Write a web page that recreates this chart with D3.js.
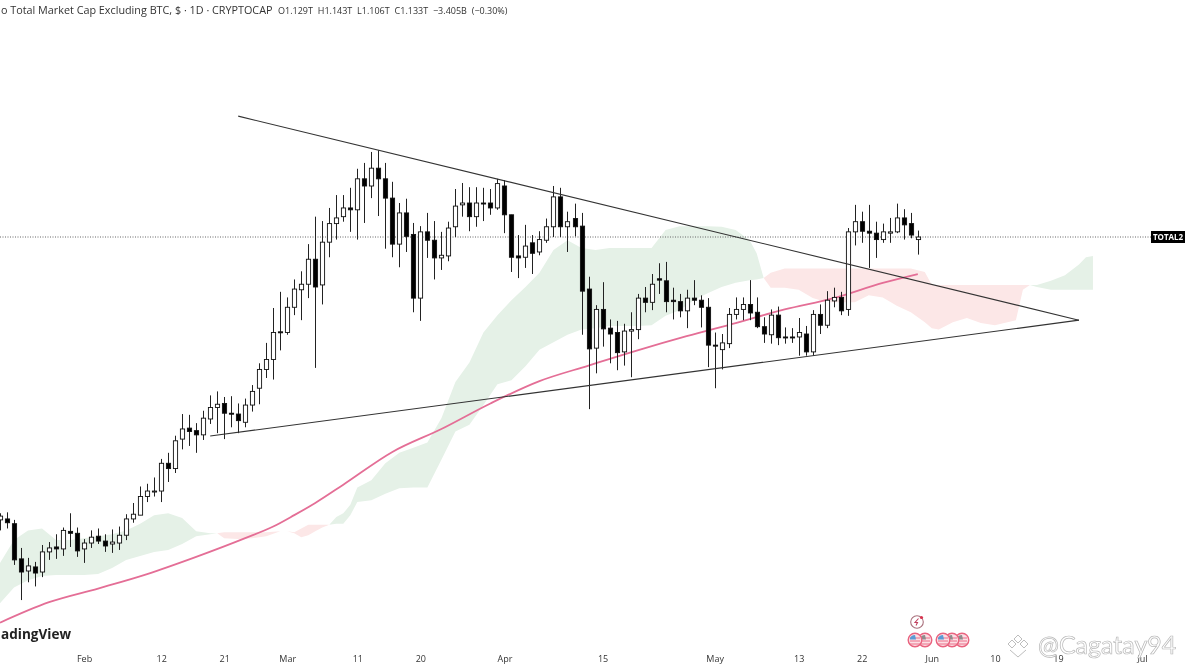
<!DOCTYPE html>
<html>
<head>
<meta charset="utf-8">
<script src="https://cdn.jsdelivr.net/npm/d3@7"></script>
<style>
  html, body { margin: 0; padding: 0; background: #fff; overflow: hidden; }
  svg { display: block; }
  text { font-family: "Open Sans", sans-serif; }
</style>
</head>
<body>
<div id="chart"></div>
<script>
// daily candles, first one is firstDay, prices in trillions
const firstDay = '2024-01-20'
const opens = [
  .769,.770,.765,.729,.717,.721,.716,.736,.741,.739,.757,.755,
  .739,.745,.752,.747,.744,.745,.753,.770,.774,.794,.799,.800,
  .831,.825,.859,.872,.869,.864,.883,.897,.902,.890,.889,.879,
  .900,.921,.945,.958,.995,.994,1.029,1.054,1.062,1.099,1.061,1.125,
  1.154,1.165,1.179,1.176,1.227,1.215,1.245,1.227,1.195,1.122,1.171,1.137,
  1.042,1.141,1.128,1.101,1.104,1.149,1.184,1.187,1.165,1.187,1.187,1.179,
  1.215,1.168,1.104,1.102,1.124,1.110,1.128,1.149,1.197,1.149,1.162,1.150,
  1.055,.973,1.026,1.000,.994,.968,.996,.998,1.042,1.036,1.070,1.067,
  1.039,1.037,1.024,1.042,1.039,1.029,.977,.971,.979,1.019,1.026,1.033,
  1.022,1.002,.991,1.018,.988,.988,.988,.992,.968,1.019,1.004,1.038,
  1.043,1.026,1.141,1.157,1.142,1.139,1.129,1.139,1.141,1.163,1.154,1.129
]
const highs = [
  .776,.777,.769,.740,.730,.726,.743,.746,.754,.761,.776,.761,
  .749,.758,.760,.754,.759,.762,.775,.787,.805,.808,.815,.836,
  .843,.863,.889,.888,.878,.893,.912,.917,.910,.911,.902,.908,
  .925,.953,.980,1.028,1.051,1.043,1.069,1.081,1.122,1.165,1.158,1.179,
  1.200,1.200,1.212,1.244,1.254,1.273,1.276,1.254,1.222,1.187,1.194,1.155,
  1.150,1.171,1.158,1.141,1.157,1.210,1.220,1.213,1.213,1.212,1.210,1.227,
  1.225,1.168,1.136,1.152,1.136,1.142,1.162,1.215,1.212,1.173,1.186,1.171,
  1.073,1.032,1.065,1.012,1.010,1.006,1.022,1.048,1.058,1.077,1.093,1.095,
  1.057,1.048,1.054,1.068,1.046,1.042,.994,.992,1.028,1.043,1.043,1.068,
  1.043,1.015,1.026,1.030,1.001,1.000,1.014,1.003,1.025,1.033,1.052,1.057,
  1.051,1.147,1.184,1.173,1.184,1.157,1.154,1.163,1.186,1.177,1.171,1.143
]
const lows = [
  .758,.760,.723,.689,.706,.702,.711,.728,.729,.732,.741,.731,
  .725,.740,.744,.736,.735,.738,.748,.766,.774,.788,.794,.788,
  .810,.820,.847,.851,.843,.858,.877,.866,.859,.873,.866,.873,
  .892,.901,.934,.932,.970,.991,1.018,1.011,1.042,.947,1.033,1.102,
  1.129,1.157,1.141,1.129,1.155,1.195,1.166,1.115,1.102,1.087,1.110,1.022,
  1.010,1.101,1.069,1.083,1.096,1.133,1.165,1.142,1.149,1.158,1.168,1.176,
  1.139,1.080,1.071,1.086,1.077,1.105,1.124,1.133,1.133,1.110,1.134,.991,
  .895,.940,.975,.953,.944,.950,.935,.985,1.022,1.025,1.048,1.022,
  1.012,1.015,1.000,1.032,1.001,.948,.921,.945,.973,1.012,1.011,1.011,
  1.000,.980,.979,.977,.979,.980,.963,.963,.963,.992,1.000,1.029,
  1.018,1.017,1.120,1.124,1.086,1.101,1.124,1.124,1.139,1.129,1.131,1.106
]
const closes = [
  .773,.766,.728,.716,.722,.715,.736,.740,.739,.758,.755,.737,
  .745,.751,.747,.742,.746,.753,.770,.775,.794,.800,.800,.831,
  .825,.857,.871,.868,.864,.884,.897,.901,.890,.889,.881,.900,
  .917,.945,.958,.994,.994,1.029,1.055,1.062,1.099,1.058,1.125,1.154,
  1.163,1.179,1.176,1.227,1.215,1.245,1.227,1.195,1.122,1.171,1.134,1.042,
  1.141,1.128,1.101,1.105,1.147,1.182,1.187,1.165,1.187,1.186,1.179,1.219,
  1.168,1.102,1.101,1.119,1.108,1.129,1.149,1.197,1.149,1.157,1.149,1.052,
  .972,1.026,.999,.992,.967,.996,.998,1.042,1.036,1.062,1.068,1.037,
  1.037,1.024,1.042,1.039,1.029,.977,.976,.980,1.019,1.026,1.033,1.021,
  1.002,.992,1.018,.987,.987,.987,.994,.968,1.019,1.004,1.039,1.043,
  1.024,1.141,1.157,1.142,1.139,1.129,1.141,1.141,1.163,1.152,1.136,1.133
]
const lastPrice = 1.133

// ichimoku cloud, green where A is above B, red where it is below
const cloudDates = [
  '01-20','01-22','01-24','01-26','01-28','01-30','02-01','02-03','02-05','02-07','02-09','02-11',
  '02-13','02-15','02-17','02-19','02-20','02-21','02-23','02-25','02-27','02-29','03-01','03-02',
  '03-03','03-04','03-05','03-06','03-07','03-08','03-09','03-10','03-11','03-13','03-15','03-17',
  '03-19','03-21','03-23','03-25','03-27','03-29','03-31','04-02','04-04','04-06','04-08','04-10',
  '04-12','04-14','04-16','04-18','04-20','04-22','04-24','04-26','04-28','04-30','05-02','05-04',
  '05-06','05-07','05-08','05-09','05-11','05-13','05-15','05-17','05-19','05-21','05-23','05-25',
  '05-27','05-29','05-31','06-01','06-02','06-04','06-06','06-08','06-10','06-13','06-14','06-15',
  '06-16','06-18','06-20','06-22','06-23','06-24'
]
const spanA = [
  .725,.748,.758,.760,.748,.748,.750,.752,.754,.758,.765,.774,
  .776,.771,.757,.755,.755,.750,.749,.750,.752,.757,.757,.755,
  .751,.753,.757,.761,.764,.772,.776,.785,.804,.812,.831,.843,
  .849,.855,.884,.929,.954,.994,1.018,1.039,1.058,1.079,1.113,1.128,
  1.116,1.113,1.116,1.116,1.116,1.116,1.144,1.150,1.150,1.150,1.149,1.144,
  1.128,1.108,1.071,1.057,1.057,1.054,1.042,1.036,1.036,1.036,1.046,1.043,
  1.031,1.022,1.008,1.000,.998,1.008,1.014,1.007,1.004,1.011,1.054,1.061,
  1.061,1.067,1.075,1.091,1.102,1.104
]
const spanB = [
  .686,.701,.708,.712,.713,.713,.713,.714,.720,.728,.732,.736,
  .738,.744,.752,.754,.755,.756,.756,.756,.756,.757,.757,.756,
  .760,.764,.764,.764,.764,.765,.765,.774,.788,.790,.797,.803,
  .804,.804,.835,.868,.876,.900,.926,.931,.949,.971,.981,.991,
  .998,1.000,1.003,1.003,1.003,1.004,1.017,1.025,1.039,1.049,1.058,1.064,
  1.068,1.069,1.071,1.079,1.085,1.085,1.085,1.085,1.085,1.085,1.085,1.085,
  1.085,1.085,1.080,1.061,1.061,1.061,1.061,1.061,1.061,1.061,1.061,1.061,
  1.058,1.054,1.054,1.054,1.054,1.054
]

// moving average
const maDates = ['01-20','01-27','02-03','02-10','02-17','02-24','02-28','03-02','03-05','03-09','03-16','03-23','03-30','04-06','04-13','04-20','04-27','05-04','05-11','05-18','05-25','05-30']
const maValues = [.668,.687,.700,.714,.731,.750,.762,.774,.787,.807,.844,.871,.902,.930,.950,.970,.989,1.007,1.026,1.042,1.064,1.077]

// the two drawn trendlines, they meet at the apex
const trendDates = [['02-23','06-22'],['02-19','06-22']]
const trendValues = [[1.337,1.011],[.8626,1.011]]

const tickDates = ['02-01','02-12','02-21','03-01','03-11','03-20','04-01','04-15','05-01','05-13','05-22','06-01','06-10','06-19','07-01']
const tickLabels = ['Feb','12','21','Mar','11','20','Apr','15','May','13','22','Jun','10','19','Jul']

const day = s => new Date(Date.UTC(2024, +s.slice(0, 2) - 1, +s.slice(3)))
const width = 1185, height = 666

const x = d3.scaleUtc().domain([day('01-20'), day('07-01')]).range([0, 1142])
const y = d3.scaleLog().domain([.6295, 1.5676]).range([height, 0])

const svg = d3.select('#chart').append('svg')
  .attr('width', width)
  .attr('height', height)
  .style('filter', 'blur(0.35px)')

// cloud
const cloud = cloudDates.map((d, i) => ({ d: day(d), a: spanA[i], b: spanB[i] }))
const cloudArea = d3.area().x(d => x(d.d)).y0(d => y(d.a)).y1(d => y(d.b))
svg.append('path')
  .attr('d', cloudArea.defined(d => d.a >= d.b)(cloud))
  .attr('fill', '#e5f1e7')
svg.append('path')
  .attr('d', cloudArea.defined(d => d.a <= d.b)(cloud))
  .attr('fill', '#fce7e7')

// last price line
svg.append('line')
  .attr('x1', 0).attr('x2', 1151)
  .attr('y1', y(lastPrice)).attr('y2', y(lastPrice))
  .attr('stroke', '#666')
  .attr('stroke-dasharray', '1 1.5')

// moving average
const maLine = d3.line().x((d, i) => x(day(maDates[i]))).y(d => y(d)).curve(d3.curveMonotoneX)
svg.append('path')
  .attr('d', maLine(maValues))
  .attr('fill', 'none')
  .attr('stroke', '#e46e96')
  .attr('stroke-width', 1.8)

// candles
const start = new Date(firstDay + 'T00:00:00Z')
const candles = opens.map((o, i) => ({
  date: d3.utcDay.offset(start, i), o: o, h: highs[i], l: lows[i], c: closes[i]
}))
const candle = svg.selectAll('g.candle').data(candles).enter().append('g').attr('class', 'candle')
candle.append('line')
  .attr('x1', d => Math.round(x(d.date)) + .5)
  .attr('x2', d => Math.round(x(d.date)) + .5)
  .attr('y1', d => y(d.h))
  .attr('y2', d => y(d.l))
  .attr('stroke', '#222')
candle.append('rect')
  .attr('x', d => Math.round(x(d.date)) - 1.6)
  .attr('width', 4.2)
  .attr('y', d => y(Math.max(d.o, d.c)))
  .attr('height', d => Math.max(1, Math.abs(y(d.o) - y(d.c))))
  .attr('fill', d => d.c >= d.o ? '#fff' : '#000')
  .attr('stroke', '#111')
  .attr('stroke-width', .9)

// trendlines
trendDates.forEach((t, i) => {
  svg.append('line')
    .attr('x1', x(day(t[0]))).attr('y1', y(trendValues[i][0]))
    .attr('x2', x(day(t[1]))).attr('y2', y(trendValues[i][1]))
    .attr('stroke', '#333')
    .attr('stroke-width', 1.1)
})

// time axis
const axis = d3.axisBottom(x)
  .tickValues(tickDates.map(day))
  .tickFormat((d, i) => tickLabels[i])
  .tickSize(0)
const axisG = svg.append('g').attr('transform', 'translate(0,653)').call(axis)
axisG.select('.domain').remove()
axisG.selectAll('text')
  .style('font-family', '"Open Sans", sans-serif')
  .style('font-size', '9px')
  .attr('fill', '#333')

// header
svg.append('text').attr('x', 1).attr('y', 14).attr('fill', '#333').attr('font-size', 10.8)
  .text('o Total Market Cap Excluding BTC, $ · 1D · CRYPTOCAP')
svg.append('text').attr('x', 278).attr('y', 14).attr('fill', '#333').attr('font-size', 9)
  .attr('word-spacing', 2.5)
  .text('O1.129T H1.143T L1.106T C1.133T −3.405B (−0.30%)')

// price tag
svg.append('rect').attr('x', 1151).attr('y', 231).attr('width', 34).attr('height', 12).attr('fill', '#000')
svg.append('text').attr('x', 1168).attr('y', 240).attr('text-anchor', 'middle')
  .attr('fill', '#fff').attr('font-size', 8).attr('font-weight', 700).text('TOTAL2')

// logo text
svg.append('text').attr('x', 1).attr('y', 639)
  .attr('textLength', 70).attr('lengthAdjust', 'spacingAndGlyphs')
  .attr('font-size', 15).attr('font-weight', 700).attr('fill', '#222').text('adingView')

// event icons above the axis
const bolt = svg.append('g').attr('transform', 'translate(917,622)')
bolt.append('circle').attr('r', 6.3).attr('fill', '#fff').attr('stroke', '#a9707c').attr('stroke-width', 1.1)
bolt.append('path').attr('d', 'M1.5 -3.5 L-2 .5 L.5 .5 L-1 3.5').attr('fill', 'none').attr('stroke', '#c2415f').attr('stroke-width', 1.1)
bolt.append('circle').attr('cx', 4.5).attr('cy', -4.5).attr('r', 1.6).attr('fill', '#d9344f')

const flagCenters = [925, 915, 962, 952, 943]
flagCenters.forEach((cx, i) => {
  const g = svg.append('g').attr('transform', `translate(${cx},640)`)
  g.append('circle').attr('r', 6.8).attr('fill', '#fbdfe4').attr('stroke', '#e9637f').attr('stroke-width', 1.4)
  g.selectAll('line').data([-2, 1, 4]).enter().append('line')
    .attr('x1', -5).attr('x2', 5).attr('y1', d => d).attr('y2', d => d)
    .attr('stroke', '#e9637f').attr('stroke-width', .9)
  g.append('path').attr('d', 'M-5 -.5 L-5 -2 A5.5 5.5 0 0 1 0 -5 L1 -.5 Z')
    .attr('fill', cx === 915 || cx === 943 ? '#5b9bd5' : '#8d8d8d')
})

// watermark
const wm = svg.append('g').attr('fill', 'none').attr('stroke', '#b5b5b5').attr('stroke-width', .9)
wm.append('path').attr('d', 'M1018 635 L1022 639 L1018 643 L1014 639 Z')
wm.append('path').attr('d', 'M1008 644 L1012 640 L1016 644 L1012 648 Z M1020 644 L1024 640 L1028 644 L1024 648 Z')
wm.append('path').attr('d', 'M1010 650 L1018 657 L1026 650')
svg.append('text').attr('x', 1038).attr('y', 654)
  .attr('font-size', 25).attr('fill', '#fff').attr('stroke', '#b8b8b8').attr('stroke-width', .7)
  .style('font-family', 'Lato, sans-serif')
  .text('@Cagatay94')
</script>
</body>
</html>
